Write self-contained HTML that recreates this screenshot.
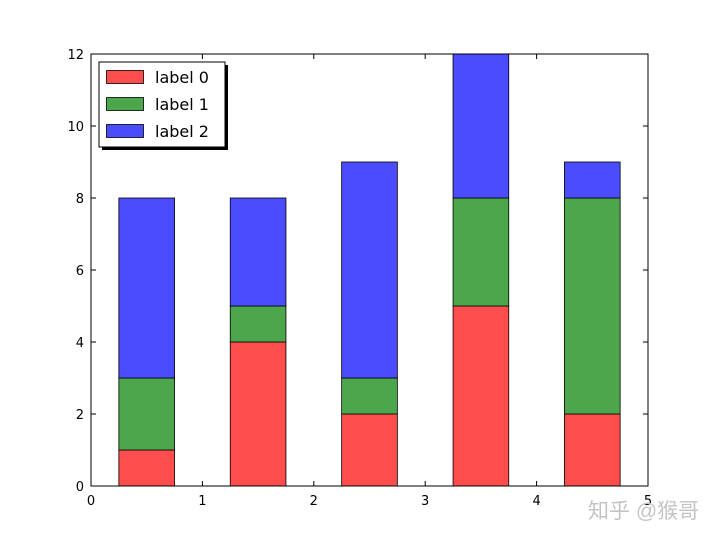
<!DOCTYPE html>
<html><head><meta charset="utf-8"><style>
body{margin:0;background:#fff;}
svg text{font-family:"DejaVu Sans","Liberation Sans",sans-serif;}
</style></head><body>
<svg id="chart" width="720" height="540" xmlns="http://www.w3.org/2000/svg">
<rect width="720" height="540" fill="#fff"/>
<g id="bars"></g>
<g id="axes"></g>
<g>
<rect x="102" y="65" width="126" height="85" fill="#000"/>
<rect x="99" y="62" width="126" height="85" fill="#fff" stroke="#000" stroke-width="1"/>
<g><rect x="106.5" y="70.5" width="37" height="13" fill="#ff4c4c" stroke="#000" stroke-width="0.8"/><text x="155" y="83" font-size="16">label 0</text></g>
<g><rect x="106.5" y="97.5" width="37" height="13" fill="#4ca64c" stroke="#000" stroke-width="0.8"/><text x="155" y="110" font-size="16">label 1</text></g>
<g><rect x="106.5" y="124.5" width="37" height="13" fill="#4c4cff" stroke="#000" stroke-width="0.8"/><text x="155" y="137" font-size="16">label 2</text></g>
</g>
<text x="588" y="518" font-size="21" fill="#c4c4c4" style="font-family:'Liberation Sans','Noto Sans CJK SC',sans-serif">知乎 @猴哥</text>
</svg>
<script>
const categories=[0,1,2,3,4];
const label0=[1,4,2,5,2];
const label1=[2,1,1,3,6];
const label2=[5,3,6,4,1];
const xTicks=[0,1,2,3,4,5];
const yTicks=[0,2,4,6,8,10,12];
const NS="http://www.w3.org/2000/svg";
const X0=91,X1=648,Y0=486,Y1=54;
const xs=v=>X0+(v/5)*(X1-X0);
const ys=v=>Y0-(v/12)*(Y0-Y1);
const bars=document.getElementById('bars');
const series=[[label0,'#ff4c4c','label-0'],[label1,'#4ca64c','label-1'],[label2,'#4c4cff','label-2']];
categories.forEach((c,i)=>{
  let base=0;
  series.forEach(([arr,col,nm])=>{
    const v=arr[i];
    const r=document.createElementNS(NS,'rect');
    r.setAttribute('x',xs(c+0.25));
    r.setAttribute('width',xs(c+0.75)-xs(c+0.25));
    r.setAttribute('y',ys(base+v));
    r.setAttribute('height',ys(base)-ys(base+v));
    r.setAttribute('fill',col);
    r.setAttribute('stroke','#000');
    r.setAttribute('stroke-width','0.8');
    
    
    bars.appendChild(r);
    base+=v;
  });
});
const axes=document.getElementById('axes');
function add(tag,attrs,txt){const e=document.createElementNS(NS,tag);for(const k in attrs)e.setAttribute(k,attrs[k]);if(txt!==undefined)e.textContent=txt;axes.appendChild(e);return e;}
const frame=add('rect',{x:X0,y:Y1,width:X1-X0,height:Y0-Y1,fill:'none',stroke:'#000','stroke-width':1});


xTicks.forEach(t=>{
  const x=xs(t);
  add('line',{x1:x,x2:x,y1:Y0,y2:Y0-5,stroke:'#000'});
  add('line',{x1:x,x2:x,y1:Y1,y2:Y1+5,stroke:'#000'});
  const l=add('text',{x:x,y:Y0+19,'font-size':13,'text-anchor':'middle'},t);
  
  
});
yTicks.forEach(t=>{
  const y=ys(t);
  add('line',{x1:X0,x2:X0+5,y1:y,y2:y,stroke:'#000'});
  add('line',{x1:X1,x2:X1-5,y1:y,y2:y,stroke:'#000'});
  const l=add('text',{x:X0-7,y:y+5,'font-size':13,'text-anchor':'end'},t);
  
  
});
</script>
</body></html>
